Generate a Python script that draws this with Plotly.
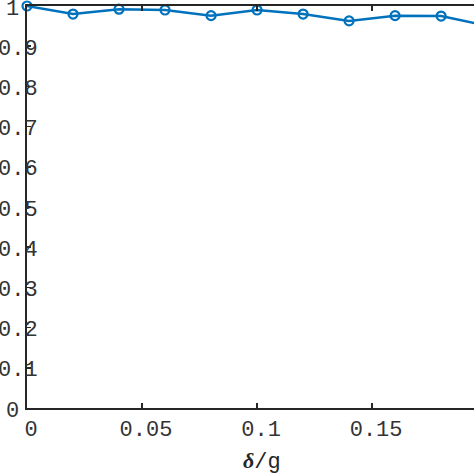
import plotly.graph_objects as go

x_vals = [0.0, 0.02, 0.04, 0.06, 0.08, 0.10, 0.12, 0.14, 0.16, 0.18, 0.20]
y_vals = [1.0, 0.980, 0.992, 0.990, 0.976, 0.990, 0.980, 0.963, 0.976, 0.975, 0.951]
x_ticks = [0, 0.05, 0.1, 0.15]
x_tick_labels = ["0", "0.05", "0.1", "0.15"]
y_ticks = [0, 0.1, 0.2, 0.3, 0.4, 0.5, 0.6, 0.7, 0.8, 0.9, 1.0]
y_tick_labels = ["0", "0.1", "0.2", "0.3", "0.4", "0.5", "0.6", "0.7", "0.8", "0.9", "1"]

MONO = "Liberation Mono"
AX = "#262626"

fig = go.Figure()
fig.add_trace(go.Scatter(
    x=x_vals, y=y_vals, mode="lines+markers",
    line=dict(color="#0072BD", width=2.5),
    marker=dict(symbol="circle-open", size=9, color="#0072BD", line=dict(width=2.2, color="#0072BD")),
    cliponaxis=False, showlegend=False, hoverinfo="skip",
))

annotations = []
for v, t in zip(y_ticks, y_tick_labels):
    shift = 13 if "." in t else -6
    annotations.append(dict(
        x=0, xref="paper", y=v, yref="y", text=t, showarrow=False,
        xanchor="right", yanchor="middle", xshift=shift, yshift=-3,
        font=dict(family=MONO, size=22, color="#333333"),
    ))
annotations.append(dict(
    x=0.526, xref="paper", y=-0.134, yref="paper", showarrow=False,
    xanchor="center", yanchor="middle",
    text="<span style='font-family:Liberation Serif'><b><i>δ</i></b></span>/g",
    font=dict(family=MONO, size=22, color=AX),
))

fig.update_layout(
    width=474, height=474,
    margin=dict(l=27, r=0, t=6, b=66),
    plot_bgcolor="white", paper_bgcolor="white",
    annotations=annotations,
    xaxis=dict(
        range=[0, 0.1943], tickvals=x_ticks, ticktext=x_tick_labels,
        ticks="inside", ticklen=5, tickwidth=1.5, tickcolor=AX,
        showline=True, linecolor=AX, linewidth=1.8, mirror="ticks",
        showgrid=False, zeroline=False, ticklabelshift=4,
        tickfont=dict(family=MONO, size=22, color="#333333"),
    ),
    yaxis=dict(
        range=[0, 1], tickvals=y_ticks, showticklabels=False,
        ticks="inside", ticklen=4, tickwidth=1.5, tickcolor=AX,
        showline=True, linecolor=AX, linewidth=1.8, mirror=False,
        showgrid=False, zeroline=False,
    ),
)

fig.write_html(
    "out.html",
    config={"displayModeBar": False, "staticPlot": True},
    post_script="document.body.style.margin='0';document.body.style.overflow='hidden';",
)
